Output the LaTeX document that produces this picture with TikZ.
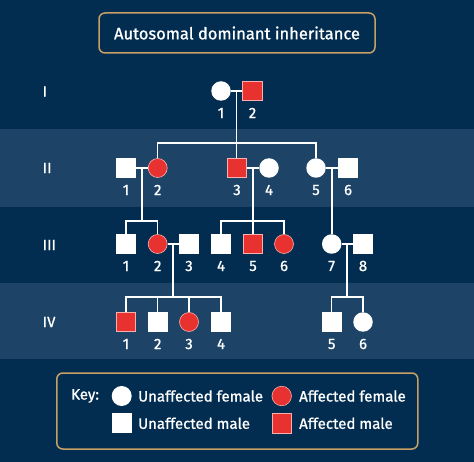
\documentclass[tikz,border=0pt]{standalone}
\usepackage{fontspec}
\setmainfont{Fira Sans}[FakeBold=0.9]
\usetikzlibrary{positioning,calc}
\definecolor{pednavy}{RGB}{2,45,80}
\definecolor{pedband}{RGB}{29,67,103}
\definecolor{pedred}{RGB}{232,50,48}
\definecolor{pededge}{RGB}{250,175,175}
\definecolor{pedgold}{RGB}{198,160,100}

\begin{document}
\begin{tikzpicture}[x=1pt,y=-1pt,
  every node/.style={text=white,font=\fontsize{15}{18}\selectfont},
  ufem/.style={circle,fill=white,minimum size=19.5pt,inner sep=0pt},
  afem/.style={circle,fill=pedred,draw=pededge,line width=0.6pt,minimum size=19pt,inner sep=0pt},
  umale/.style={rectangle,fill=white,minimum size=20pt,inner sep=0pt},
  amale/.style={rectangle,fill=pedred,draw=pededge,line width=0.6pt,minimum size=19.5pt,inner sep=0pt},
  num/.style={inner sep=0pt},
  link/.style={draw=white,line width=1.5pt},
  goldbox/.style={draw=pedgold,line width=1.5pt,rounded corners=6pt}]
  % background and generation bands
  \fill[pednavy] (0,0) rectangle (474,462);
  \fill[pedband] (0,129.3) rectangle (474,206.7);
  \fill[pedband] (0,283.3) rectangle (474,359.5);

  % title
  \node[goldbox,minimum width=276pt,minimum height=40pt,font=\fontsize{16.5}{20}\selectfont] (title) at (237,33) {Autosomal dominant inheritance};

  % generation labels
  \foreach \g/\y in {I/91.5,II/168,III/245,IV/322}{
    \node[anchor=west,inner sep=0pt] (gen\g) at (42.5,\y) {\g};
  }

  % individuals
  \foreach \nm/\x/\y/\sty/\num in {
    I1/221/91/ufem/1, I2/252.5/91/amale/2,
    II1/126/168/umale/1, II2/157.7/168/afem/2, II3/237/168/amale/3,
    II4/269/168/ufem/4, II5/316/168/ufem/5, II6/348/168/umale/6,
    III1/126/244/umale/1, III2/157.7/244/afem/2, III3/189/244/umale/3,
    III4/221/244/umale/4, III5/253/244/amale/5, III6/284/244/afem/6,
    III7/331.7/244/ufem/7, III8/363/244/umale/8,
    IV1/126/322/amale/1, IV2/157.7/322/umale/2, IV3/189/322/afem/3,
    IV4/221/322/umale/4, IV5/331.7/322/umale/5, IV6/363/322/ufem/6}{
    \node[\sty] (\nm) at (\x,\y) {};
    \node[num] (\nm-n) at (\x,\y+22) {\num};
  }

  % sibship levels
  \coordinate (sII) at (0,143);
  \coordinate (sIII) at (0,221);
  \coordinate (sIV) at (0,297);

  % couples
  \coordinate (mI) at ($(I1.east)!0.5!(I2.west)$);
  \coordinate (mII1) at ($(II1.east)!0.5!(II2.west)$);
  \coordinate (mII2) at ($(II3.east)!0.5!(II4.west)$);
  \coordinate (mII3) at ($(II5.east)!0.5!(II6.west)$);
  \coordinate (mIII1) at ($(III2.east)!0.5!(III3.west)$);
  \coordinate (mIII2) at ($(III7.east)!0.5!(III8.west)$);
  \draw[link] (I1.east) -- (I2.west);
  \draw[link] (II1.east) -- (II2.west);
  \draw[link] (II3.east) -- (II4.west);
  \draw[link] (II5.east) -- (II6.west);
  \draw[link] (III2.east) -- (III3.west);
  \draw[link] (III7.east) -- (III8.west);

  % generation I -> II
  \draw[link] (mI) -- (mI |- II3.north);
  \draw[link] (II2.north) -- (II2 |- sII) -- (II5 |- sII) -- (II5.north);

  % generation II -> III
  \draw[link] (mII1) -- (mII1 |- sIII);
  \draw[link] (III1.north) -- (III1 |- sIII) -- (III2 |- sIII) -- (III2.north);
  \draw[link] (mII2) -- (mII2 |- III5.north);
  \draw[link] (III4.north) -- (III4 |- sIII) -- (III6 |- sIII) -- (III6.north);
  \draw[link] (mII3) -- (mII3 |- III7.north);

  % generation III -> IV
  \draw[link] (mIII1) -- (mIII1 |- sIV);
  \draw[link] (IV1.north) -- (IV1 |- sIV) -- (IV4 |- sIV) -- (IV4.north);
  \draw[link] (IV2.north) -- (IV2 |- sIV);
  \draw[link] (IV3.north) -- (IV3 |- sIV);
  \draw[link] (mIII2) -- (mIII2 |- sIV);
  \draw[link] (IV5.north) -- (IV5 |- sIV) -- (IV6 |- sIV) -- (IV6.north);

  % key
  \node[goldbox,minimum width=361pt,minimum height=76pt] (keybox) at (237.3,411) {};
  \node[anchor=west,inner sep=0pt] (keylab) at (71,396) {Key:};
  \node[ufem,minimum size=20pt] (kuf) at (121.7,396) {};
  \node[anchor=west,inner sep=0pt] (kuft) at (138,396) {Unaffected female};
  \node[afem,minimum size=19.5pt] (kaf) at (281.7,396) {};
  \node[anchor=west,inner sep=0pt] (kaft) at (299,396) {Affected female};
  \node[umale] (kum) at (121.7,423.3) {};
  \node[anchor=west,inner sep=0pt] (kumt) at (138,423.3) {Unaffected male};
  \node[amale] (kam) at (281.7,423.3) {};
  \node[anchor=west,inner sep=0pt] (kamt) at (299,423.3) {Affected male};
\end{tikzpicture}
\end{document}
